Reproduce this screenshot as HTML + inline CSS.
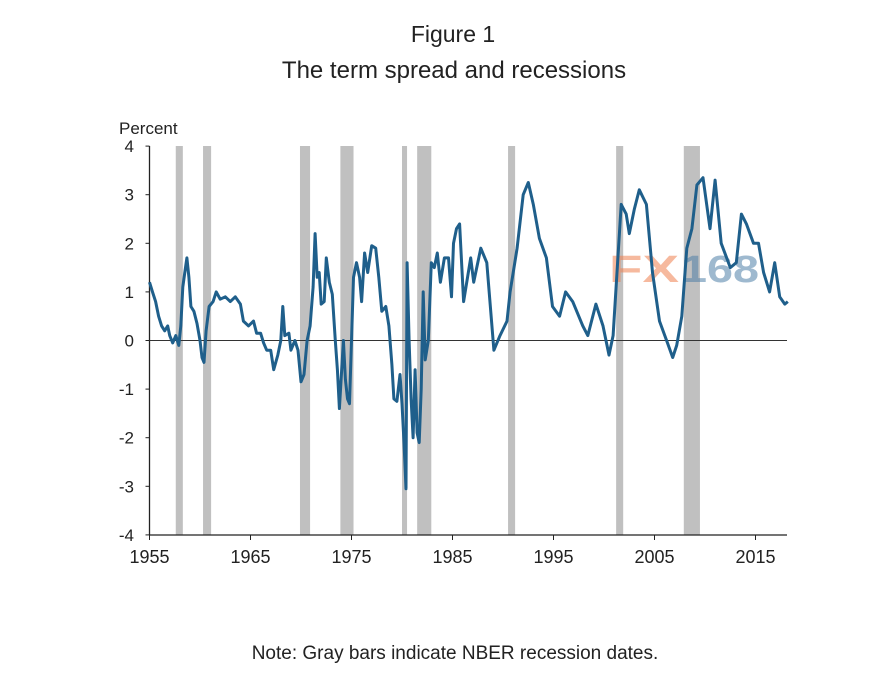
<!DOCTYPE html>
<html><head><meta charset="utf-8"><style>
html,body{margin:0;padding:0;background:#fff;}
body{width:889px;height:690px;overflow:hidden;font-family:"Liberation Sans",sans-serif;}
</style></head><body>
<svg id="chart" width="889" height="690" xmlns="http://www.w3.org/2000/svg" font-family="Liberation Sans, sans-serif">
<text x="453" y="42" text-anchor="middle" font-size="23" fill="#222">Figure 1</text>
<text x="454" y="78" text-anchor="middle" font-size="24" fill="#222">The term spread and recessions</text>
<text x="119" y="134" font-size="17" fill="#222">Percent</text>
<g id="rec"></g>
<g id="wm" opacity="0.55" font-weight="bold" font-size="38">
<text x="609" y="282" fill="#f08050" textLength="70" lengthAdjust="spacingAndGlyphs">FX</text><text x="681" y="282" fill="#5080a8" textLength="78" lengthAdjust="spacingAndGlyphs">168</text>
</g>
<g id="axes"></g>
<path id="line" fill="none" stroke="#1f5f8b" stroke-width="3" stroke-linejoin="round"></path>
<text x="455" y="659" text-anchor="middle" font-size="19" fill="#222">Note: Gray bars indicate NBER recession dates.</text>
</svg>
<script>
const recStart=[1957.6,1960.3,1969.9,1973.9,1980.0,1981.5,1990.5,2001.2,2007.9];
const recEnd=[1958.3,1961.1,1970.9,1975.2,1980.5,1982.9,1991.2,2001.9,2009.5];
const yTicks=[4,3,2,1,0,-1,-2,-3,-4];
const xTicks=[1955,1965,1975,1985,1995,2005,2015];
const years=[1955.0,1955.3,1955.6,1955.9,1956.2,1956.5,1956.8,1957.0,1957.3,1957.6,1957.9,1958.1,1958.3,1958.5,1958.7,1958.9,1959.1,1959.4,1959.7,1960.0,1960.2,1960.4,1960.6,1960.9,1961.3,1961.6,1962.0,1962.5,1963.0,1963.5,1964.0,1964.3,1964.8,1965.3,1965.6,1966.0,1966.3,1966.6,1967.0,1967.3,1967.7,1968.0,1968.2,1968.4,1968.8,1969.0,1969.4,1969.7,1970.0,1970.3,1970.6,1970.9,1971.2,1971.4,1971.6,1971.8,1972.0,1972.3,1972.5,1972.8,1973.1,1973.4,1973.6,1973.8,1974.0,1974.2,1974.4,1974.6,1974.8,1975.0,1975.2,1975.5,1975.8,1976.0,1976.3,1976.6,1977.0,1977.4,1977.7,1978.0,1978.4,1978.7,1979.0,1979.2,1979.5,1979.8,1980.0,1980.2,1980.4,1980.5,1980.7,1980.9,1981.1,1981.3,1981.5,1981.7,1981.9,1982.1,1982.3,1982.6,1982.9,1983.2,1983.5,1983.8,1984.2,1984.6,1984.9,1985.1,1985.4,1985.7,1986.1,1986.8,1987.1,1987.8,1988.4,1989.1,1989.7,1990.4,1990.7,1991.4,1992.0,1992.5,1993.0,1993.6,1994.3,1994.9,1995.6,1996.2,1996.9,1997.9,1998.4,1999.2,1999.9,2000.5,2000.9,2001.7,2002.2,2002.5,2003.0,2003.5,2004.2,2004.8,2005.5,2006.2,2006.8,2007.2,2007.7,2008.2,2008.7,2009.2,2009.8,2010.5,2011.0,2011.6,2012.5,2013.1,2013.6,2014.1,2014.8,2015.3,2015.8,2016.4,2016.9,2017.4,2017.9,2018.2];
const spread=[1.2,1.0,0.8,0.5,0.3,0.2,0.3,0.1,-0.05,0.1,-0.1,0.3,1.1,1.4,1.7,1.3,0.7,0.6,0.35,0.0,-0.35,-0.45,0.2,0.7,0.8,1.0,0.85,0.9,0.8,0.9,0.75,0.4,0.3,0.4,0.15,0.15,-0.05,-0.2,-0.2,-0.6,-0.3,0.0,0.7,0.1,0.15,-0.2,0.0,-0.2,-0.85,-0.7,0.0,0.3,1.1,2.2,1.3,1.4,0.75,0.8,1.7,1.2,0.95,0.0,-0.6,-1.4,-0.7,0.0,-0.8,-1.2,-1.3,0.0,1.3,1.6,1.3,0.8,1.8,1.4,1.95,1.9,1.3,0.6,0.7,0.3,-0.5,-1.2,-1.25,-0.7,-1.3,-2.1,-3.05,1.6,0.0,-1.2,-2.0,-0.6,-1.9,-2.1,-1.0,1.0,-0.4,0.0,1.6,1.5,1.8,1.2,1.7,1.7,0.9,2.0,2.3,2.4,0.8,1.7,1.2,1.9,1.6,-0.2,0.1,0.4,1.0,1.9,3.0,3.25,2.8,2.1,1.7,0.7,0.5,1.0,0.8,0.3,0.1,0.75,0.3,-0.3,0.1,2.8,2.6,2.2,2.7,3.1,2.8,1.4,0.4,0.0,-0.35,-0.1,0.5,1.9,2.3,3.2,3.35,2.3,3.3,2.0,1.5,1.6,2.6,2.4,2.0,2.0,1.4,1.0,1.6,0.9,0.75,0.8];
const X0=149.5,YR0=1955,PX=10.1,XEND=787,Y0=340.5,PY=48.6,TOP=146,BOT=535;
const xs=y=>X0+(y-YR0)*PX, ys=v=>Y0-v*PY;
const NS='http://www.w3.org/2000/svg';
function mk(tag,attrs,parent){const e=document.createElementNS(NS,tag);for(const k in attrs)e.setAttribute(k,attrs[k]);parent.appendChild(e);return e;}
const rec=document.getElementById('rec');
recStart.forEach((s,i)=>{
 const r=mk('rect',{x:xs(s),y:TOP,width:xs(recEnd[i])-xs(s),height:BOT-TOP,fill:'#c0c0c0'},rec);
 
 
});
const ax=document.getElementById('axes');
const yl=mk('line',{x1:X0,y1:TOP,x2:X0,y2:BOT,stroke:'#222','stroke-width':1.3},ax);


const xl=mk('line',{x1:X0,y1:BOT,x2:XEND,y2:BOT,stroke:'#222','stroke-width':1.3},ax);


const zl=mk('line',{x1:X0,y1:ys(0),x2:XEND,y2:ys(0),stroke:'#333','stroke-width':1},ax);


yTicks.forEach(v=>{
 mk('line',{x1:X0-4,y1:ys(v),x2:X0,y2:ys(v),stroke:'#222'},ax);
 const t=mk('text',{x:134,y:ys(v)+6,'text-anchor':'end','font-size':17,fill:'#222'},ax);
 t.textContent=v;
 
 
});
xTicks.forEach(v=>{
 mk('line',{x1:xs(v),y1:BOT,x2:xs(v),y2:BOT+5,stroke:'#222'},ax);
 const t=mk('text',{x:xs(v),y:563,'text-anchor':'middle','font-size':18,fill:'#222'},ax);
 t.textContent=v;
 
 
});
document.getElementById('line').setAttribute('d',years.map((y,i)=>(i?'L':'M')+xs(y).toFixed(1)+' '+ys(spread[i]).toFixed(1)).join(' '));
</script>
</body></html>
